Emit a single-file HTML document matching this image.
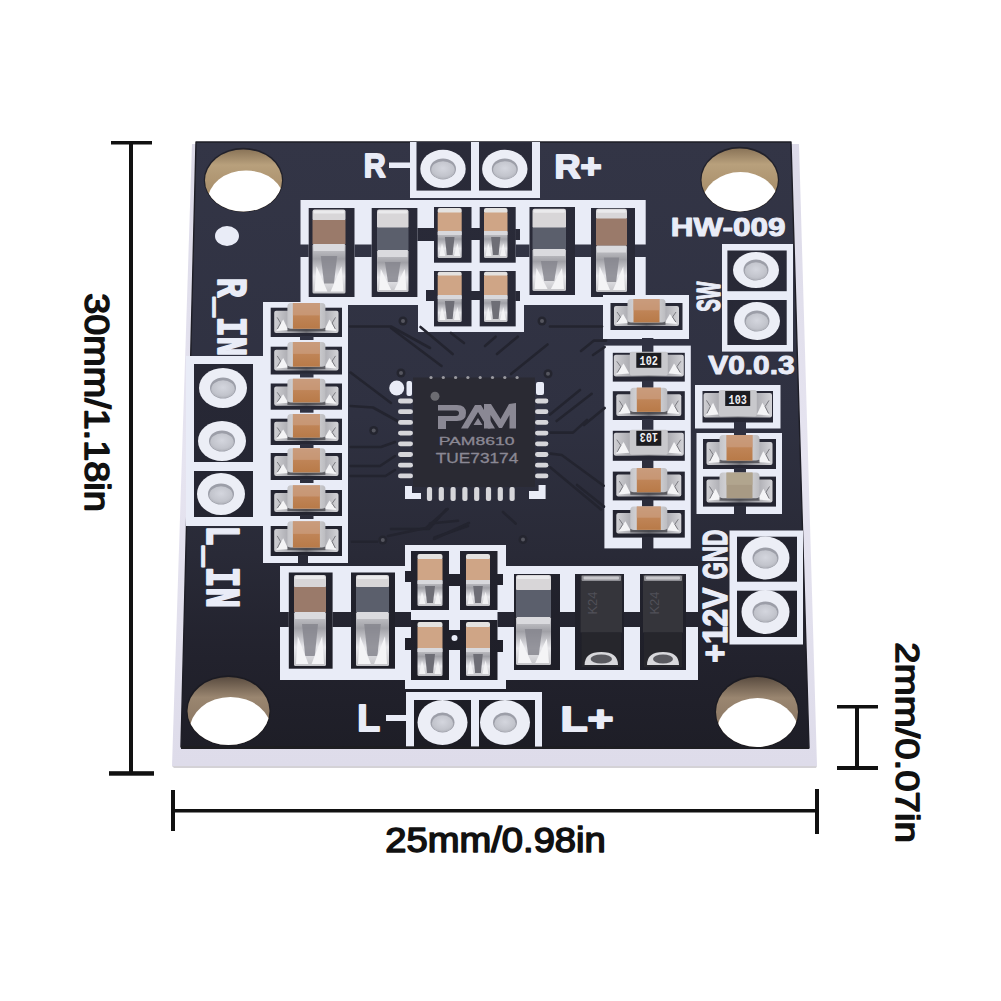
<!DOCTYPE html>
<html><head><meta charset="utf-8">
<style>
html,body{margin:0;padding:0;background:#fff;width:1001px;height:1001px;overflow:hidden}
svg{display:block;position:absolute;left:0;top:0}
</style></head><body>
<svg width="1001" height="1001" viewBox="0 0 1001 1001">
<defs>
<linearGradient id="edgeB" x1="0" y1="0" x2="0" y2="1">
<stop offset="0" stop-color="#dcdae8"/><stop offset="0.5" stop-color="#e6e4f0"/><stop offset="1" stop-color="#dedcea"/>
</linearGradient>
<linearGradient id="wallT" x1="0" y1="0" x2="0" y2="1">
<stop offset="0" stop-color="#8a7458"/><stop offset="0.25" stop-color="#b8a07c"/><stop offset="0.7" stop-color="#a88e6a"/><stop offset="1" stop-color="#8a7050"/>
</linearGradient>
<linearGradient id="wallB" x1="0" y1="0" x2="0" y2="1">
<stop offset="0" stop-color="#5a4c40"/><stop offset="0.3" stop-color="#9a8670"/><stop offset="0.7" stop-color="#8c7864"/><stop offset="1" stop-color="#6a5a4a"/>
</linearGradient>
<linearGradient id="silv" x1="0" y1="0" x2="0" y2="1">
<stop offset="0" stop-color="#d0d0d4"/><stop offset="0.3" stop-color="#a0a0a6"/><stop offset="0.65" stop-color="#e8e8ec"/><stop offset="1" stop-color="#c4c4c8"/>
</linearGradient>
<linearGradient id="silvH" x1="0" y1="0" x2="1" y2="0">
<stop offset="0" stop-color="#d0d0d4"/><stop offset="0.25" stop-color="#a8a8ae"/><stop offset="0.5" stop-color="#707076"/><stop offset="0.75" stop-color="#a8a8ae"/><stop offset="1" stop-color="#d4d4d8"/>
</linearGradient>
<linearGradient id="capEnd" x1="0" y1="0" x2="1" y2="0">
<stop offset="0" stop-color="#c4c4c8"/><stop offset="0.5" stop-color="#e8e8ea"/><stop offset="1" stop-color="#bcbcc0"/>
</linearGradient>
<linearGradient id="brownH" x1="0" y1="0" x2="0" y2="1">
<stop offset="0" stop-color="#c89a7a"/><stop offset="0.45" stop-color="#c08558"/><stop offset="1" stop-color="#b87a48"/>
</linearGradient>
<linearGradient id="boardG" gradientUnits="userSpaceOnUse" x1="0" y1="142" x2="0" y2="748">
<stop offset="0" stop-color="#333546"/><stop offset="0.45" stop-color="#2f3141"/><stop offset="0.68" stop-color="#292a37"/><stop offset="0.85" stop-color="#22222d"/><stop offset="1" stop-color="#1e1e27"/>
</linearGradient>
<linearGradient id="boxG" gradientUnits="userSpaceOnUse" x1="0" y1="142" x2="0" y2="748">
<stop offset="0" stop-color="#2a2b39"/><stop offset="0.5" stop-color="#262734"/><stop offset="1" stop-color="#1c1c24"/>
</linearGradient>
<radialGradient id="padIn" cx="0.5" cy="0.4" r="0.6">
<stop offset="0" stop-color="#d4d6de"/><stop offset="0.75" stop-color="#c2c4cc"/><stop offset="1" stop-color="#b0b2ba"/>
</radialGradient>
</defs>

<polygon points="192,144 799,144 817,766 172,766" fill="url(#edgeB)"/>
<polygon points="172,766 817,766 816,768 174,768" fill="#d4d2d6"/>
<polygon points="196,142 791,142 809,748 181,747" fill="url(#boardG)" stroke="#1e1e26" stroke-width="1.4" stroke-linejoin="round"/>
<rect x="410.0" y="142.0" width="130.0" height="56.0" fill="#e9ecf7" />
<rect x="416.5" y="142.0" width="54.5" height="48.6" fill="url(#boxG)" />
<rect x="479.0" y="142.0" width="53.0" height="48.6" fill="url(#boxG)" />
<rect x="300.5" y="200.0" width="345.2" height="105.0" fill="#e9ecf7" />
<rect x="418.0" y="200.0" width="106.0" height="132.0" fill="#e9ecf7" />
<rect x="308.7" y="208.0" width="45.8" height="89.0" fill="url(#boxG)" />
<rect x="371.7" y="208.0" width="45.7" height="89.0" fill="url(#boxG)" />
<rect x="591.0" y="208.0" width="44.0" height="89.0" fill="url(#boxG)" />
<rect x="529.5" y="207.0" width="45.5" height="88.0" fill="url(#boxG)" />
<rect x="434.0" y="207.0" width="37.5" height="55.7" fill="url(#boxG)" />
<rect x="434.0" y="271.0" width="37.5" height="55.4" fill="url(#boxG)" />
<rect x="479.7" y="207.0" width="36.0" height="55.7" fill="url(#boxG)" />
<rect x="479.7" y="271.0" width="36.0" height="55.4" fill="url(#boxG)" />
<rect x="300.0" y="244.5" width="8.7" height="12.5" fill="url(#boardG)" />
<rect x="354.5" y="244.5" width="17.2" height="12.5" fill="url(#boardG)" />
<rect x="515.7" y="244.5" width="13.8" height="12.5" fill="url(#boardG)" />
<rect x="575.0" y="244.5" width="16.0" height="12.5" fill="url(#boardG)" />
<rect x="635.0" y="244.5" width="11.0" height="12.5" fill="url(#boardG)" />
<rect x="417.4" y="228.0" width="16.6" height="13.0" fill="url(#boxG)" />
<rect x="471.0" y="228.0" width="9.2" height="12.0" fill="url(#boxG)" />
<rect x="515.2" y="229.0" width="4.8" height="11.0" fill="url(#boxG)" />
<rect x="426.0" y="290.0" width="8.5" height="11.0" fill="url(#boxG)" />
<rect x="471.0" y="291.0" width="9.2" height="9.0" fill="url(#boxG)" />
<rect x="515.2" y="291.0" width="4.8" height="10.0" fill="url(#boxG)" />
<rect x="603.0" y="295.0" width="86.0" height="44.0" fill="#e9ecf7" />
<rect x="610.5" y="303.0" width="72.0" height="27.0" fill="url(#boxG)" />
<rect x="604.4" y="345.6" width="86.4" height="202.8" fill="#e9ecf7" />
<rect x="612.8" y="352.8" width="72.0" height="28.8" fill="url(#boxG)" />
<rect x="612.8" y="391.2" width="72.0" height="28.8" fill="url(#boxG)" />
<rect x="612.8" y="430.8" width="72.0" height="30.0" fill="url(#boxG)" />
<rect x="612.8" y="471.6" width="72.0" height="28.8" fill="url(#boxG)" />
<rect x="612.8" y="510.0" width="72.0" height="27.6" fill="url(#boxG)" />
<rect x="642.0" y="380.6" width="11.4" height="11.6" fill="url(#boardG)" />
<rect x="642.0" y="419.0" width="11.4" height="12.8" fill="url(#boardG)" />
<rect x="642.0" y="459.8" width="11.4" height="12.8" fill="url(#boardG)" />
<rect x="642.0" y="499.4" width="11.4" height="11.6" fill="url(#boardG)" />
<rect x="642.0" y="338.0" width="11.4" height="15.0" fill="url(#boardG)" />
<rect x="642.0" y="537.0" width="11.4" height="12.0" fill="url(#boardG)" />
<rect x="722.0" y="244.0" width="71.0" height="107.6" fill="#e9ecf7" />
<rect x="727.4" y="250.5" width="59.3" height="40.7" fill="url(#boxG)" />
<rect x="727.4" y="300.0" width="59.3" height="45.0" fill="url(#boxG)" />
<rect x="695.0" y="385.0" width="85.5" height="43.5" fill="#e9ecf7" />
<rect x="702.5" y="391.0" width="70.5" height="31.5" fill="url(#boxG)" />
<rect x="734.0" y="422.0" width="12.0" height="7.0" fill="url(#boardG)" />
<rect x="696.5" y="433.0" width="85.5" height="81.0" fill="#e9ecf7" />
<rect x="703.0" y="439.0" width="73.0" height="30.0" fill="url(#boxG)" />
<rect x="703.0" y="476.6" width="73.0" height="30.0" fill="url(#boxG)" />
<rect x="734.0" y="432.0" width="12.0" height="8.0" fill="url(#boardG)" />
<rect x="734.0" y="468.0" width="12.0" height="9.0" fill="url(#boardG)" />
<rect x="734.0" y="506.0" width="12.0" height="9.0" fill="url(#boardG)" />
<rect x="729.5" y="530.5" width="73.5" height="114.0" fill="#e9ecf7" />
<rect x="737.0" y="536.7" width="60.0" height="45.0" fill="url(#boxG)" />
<rect x="737.0" y="590.7" width="60.0" height="46.3" fill="url(#boxG)" />
<rect x="186.0" y="356.0" width="78.0" height="170.0" fill="#e9ecf7" />
<rect x="194.0" y="364.0" width="59.0" height="98.0" fill="url(#boxG)" />
<rect x="194.0" y="471.0" width="59.0" height="46.0" fill="url(#boxG)" />
<rect x="263.0" y="302.0" width="85.0" height="261.0" fill="#e9ecf7" />
<rect x="270.7" y="307.7" width="71.3" height="29.3" fill="url(#boxG)" />
<rect x="270.7" y="346.7" width="71.3" height="27.8" fill="url(#boxG)" />
<rect x="270.7" y="383.5" width="71.3" height="26.2" fill="url(#boxG)" />
<rect x="270.7" y="418.7" width="71.3" height="26.3" fill="url(#boxG)" />
<rect x="270.7" y="453.0" width="71.3" height="27.0" fill="url(#boxG)" />
<rect x="270.7" y="490.0" width="71.3" height="26.0" fill="url(#boxG)" />
<rect x="270.7" y="526.0" width="71.3" height="30.0" fill="url(#boxG)" />
<rect x="300.0" y="336.0" width="13.5" height="4.0" fill="url(#boardG)" />
<rect x="300.0" y="373.5" width="13.5" height="4.0" fill="url(#boardG)" />
<rect x="300.0" y="408.7" width="13.5" height="4.0" fill="url(#boardG)" />
<rect x="300.0" y="444.0" width="13.5" height="4.0" fill="url(#boardG)" />
<rect x="300.0" y="479.0" width="13.5" height="4.0" fill="url(#boardG)" />
<rect x="300.0" y="515.0" width="13.5" height="4.0" fill="url(#boardG)" />
<rect x="298.0" y="555.0" width="10.0" height="9.0" fill="url(#boardG)" />
<rect x="280.0" y="566.0" width="418.0" height="114.0" fill="#e9ecf7" />
<rect x="405.0" y="545.0" width="101.0" height="144.0" fill="#e9ecf7" />
<rect x="288.8" y="572.5" width="43.8" height="96.2" fill="url(#boxG)" />
<rect x="351.0" y="572.5" width="44.0" height="96.2" fill="url(#boxG)" />
<rect x="411.0" y="551.0" width="38.0" height="59.0" fill="url(#boxG)" />
<rect x="411.0" y="620.0" width="38.0" height="60.0" fill="url(#boxG)" />
<rect x="460.0" y="551.0" width="37.5" height="59.0" fill="url(#boxG)" />
<rect x="460.0" y="620.0" width="37.5" height="60.0" fill="url(#boxG)" />
<rect x="514.0" y="574.0" width="46.0" height="96.0" fill="url(#boxG)" />
<rect x="575.0" y="574.0" width="49.0" height="96.0" fill="url(#boxG)" />
<rect x="640.0" y="574.0" width="46.0" height="96.0" fill="url(#boxG)" />
<rect x="279.0" y="612.0" width="9.8" height="15.0" fill="url(#boardG)" />
<rect x="332.5" y="612.0" width="18.5" height="15.0" fill="url(#boardG)" />
<rect x="395.0" y="612.0" width="16.0" height="15.0" fill="url(#boardG)" />
<rect x="497.5" y="612.0" width="16.5" height="15.0" fill="url(#boardG)" />
<rect x="560.0" y="612.0" width="15.0" height="15.0" fill="url(#boardG)" />
<rect x="624.0" y="612.0" width="16.0" height="15.0" fill="url(#boardG)" />
<rect x="686.0" y="612.0" width="13.0" height="15.0" fill="url(#boardG)" />
<rect x="405.0" y="571.0" width="6.5" height="11.0" fill="url(#boxG)" />
<rect x="448.5" y="574.0" width="12.0" height="12.0" fill="url(#boxG)" />
<rect x="497.0" y="574.0" width="6.0" height="11.0" fill="url(#boxG)" />
<rect x="405.0" y="638.0" width="6.5" height="12.0" fill="url(#boxG)" />
<rect x="448.5" y="630.0" width="12.0" height="20.0" fill="url(#boxG)" />
<rect x="497.0" y="640.0" width="6.0" height="12.0" fill="url(#boxG)" />
<circle cx="454.5" cy="638" r="3" fill="#e9ecf7"/>
<rect x="406.0" y="692.0" width="136.0" height="56.0" fill="#e9ecf7" />
<rect x="414.0" y="700.0" width="57.0" height="48.0" fill="url(#boxG)" />
<rect x="479.0" y="700.0" width="56.0" height="48.0" fill="url(#boxG)" />
<polygon points="181,746 809,747 809,749 181,749" fill="#1e1e22"/>
<clipPath id="hc1"><ellipse cx="243.5" cy="180.5" rx="38.5" ry="31"/></clipPath>
<ellipse cx="243.5" cy="180.0" rx="39.7" ry="32.2" fill="#1a1a20" opacity="0.7"/>
<ellipse cx="243.5" cy="180.5" rx="38.5" ry="31" fill="url(#wallT)"/>
<ellipse cx="246" cy="201.5" rx="38.5" ry="31" fill="#ffffff" clip-path="url(#hc1)"/>
<clipPath id="hc2"><ellipse cx="739.7" cy="180" rx="38.2" ry="31.5"/></clipPath>
<ellipse cx="739.7" cy="179.5" rx="39.400000000000006" ry="32.7" fill="#1a1a20" opacity="0.7"/>
<ellipse cx="739.7" cy="180" rx="38.2" ry="31.5" fill="url(#wallT)"/>
<ellipse cx="740.5" cy="203.5" rx="38.2" ry="31.5" fill="#ffffff" clip-path="url(#hc2)"/>
<clipPath id="hc3"><ellipse cx="228.5" cy="711" rx="41" ry="34"/></clipPath>
<ellipse cx="228.5" cy="710.5" rx="42.2" ry="35.2" fill="#1a1a20" opacity="0.7"/>
<ellipse cx="228.5" cy="711" rx="41" ry="34" fill="url(#wallB)"/>
<ellipse cx="230.5" cy="731" rx="41" ry="34" fill="#ffffff" clip-path="url(#hc3)"/>
<clipPath id="hc4"><ellipse cx="757" cy="712" rx="41" ry="35"/></clipPath>
<ellipse cx="757" cy="711.5" rx="42.2" ry="36.2" fill="#1a1a20" opacity="0.7"/>
<ellipse cx="757" cy="712" rx="41" ry="35" fill="url(#wallB)"/>
<ellipse cx="757.5" cy="733" rx="41" ry="35" fill="#ffffff" clip-path="url(#hc4)"/>
<ellipse cx="227" cy="236" rx="12" ry="10" fill="#e9ecf7"/>
<ellipse cx="443" cy="168.9" rx="22.7" ry="19.2" fill="#eceef6"/>
<ellipse cx="443" cy="168.9" rx="13" ry="10.5" fill="#9c9ea8"/>
<ellipse cx="443" cy="170.1" rx="11.8" ry="8.9" fill="url(#padIn)"/>
<ellipse cx="504.8" cy="168.9" rx="22.7" ry="19.2" fill="#eceef6"/>
<ellipse cx="504.8" cy="168.9" rx="13" ry="10.5" fill="#9c9ea8"/>
<ellipse cx="504.8" cy="170.1" rx="11.8" ry="8.9" fill="url(#padIn)"/>
<ellipse cx="223" cy="388" rx="24" ry="20" fill="#eceef6"/>
<ellipse cx="223" cy="388" rx="13" ry="10.5" fill="#9c9ea8"/>
<ellipse cx="223" cy="389.2" rx="11.8" ry="8.9" fill="url(#padIn)"/>
<ellipse cx="222" cy="441" rx="24" ry="20" fill="#eceef6"/>
<ellipse cx="222" cy="441" rx="13" ry="10.5" fill="#9c9ea8"/>
<ellipse cx="222" cy="442.2" rx="11.8" ry="8.9" fill="url(#padIn)"/>
<ellipse cx="221" cy="494" rx="24" ry="21" fill="#eceef6"/>
<ellipse cx="221" cy="494" rx="13" ry="10.5" fill="#9c9ea8"/>
<ellipse cx="221" cy="495.2" rx="11.8" ry="8.9" fill="url(#padIn)"/>
<ellipse cx="756" cy="270" rx="23" ry="18" fill="#eceef6"/>
<ellipse cx="756" cy="270" rx="12.5" ry="10.5" fill="#9c9ea8"/>
<ellipse cx="756" cy="271.2" rx="11.3" ry="8.9" fill="url(#padIn)"/>
<ellipse cx="757" cy="321" rx="23" ry="19" fill="#eceef6"/>
<ellipse cx="757" cy="321" rx="12.5" ry="10.5" fill="#9c9ea8"/>
<ellipse cx="757" cy="322.2" rx="11.3" ry="8.9" fill="url(#padIn)"/>
<ellipse cx="765.5" cy="558" rx="24" ry="21.5" fill="#eceef6"/>
<ellipse cx="765.5" cy="558" rx="13" ry="10.5" fill="#9c9ea8"/>
<ellipse cx="765.5" cy="559.2" rx="11.8" ry="8.9" fill="url(#padIn)"/>
<ellipse cx="765.5" cy="612" rx="24" ry="22" fill="#eceef6"/>
<ellipse cx="765.5" cy="612" rx="13" ry="10.5" fill="#9c9ea8"/>
<ellipse cx="765.5" cy="613.2" rx="11.8" ry="8.9" fill="url(#padIn)"/>
<ellipse cx="442.5" cy="722.5" rx="25" ry="22.5" fill="#eceef6"/>
<ellipse cx="442.5" cy="722.5" rx="12" ry="10" fill="#9c9ea8"/>
<ellipse cx="442.5" cy="723.7" rx="10.8" ry="8.4" fill="url(#padIn)"/>
<ellipse cx="505" cy="722.5" rx="25" ry="22.5" fill="#eceef6"/>
<ellipse cx="505" cy="722.5" rx="12" ry="10" fill="#9c9ea8"/>
<ellipse cx="505" cy="723.7" rx="10.8" ry="8.4" fill="url(#padIn)"/>
<rect x="312.5" y="244.0" width="33.0" height="49.5" fill="url(#silv)" rx="1.5"/>
<rect x="313.5" y="244.0" width="31.0" height="7.0" fill="#dadade" />
<path d="M320.8,256.0 L337.2,256.0 L333.9,283.5 L324.1,283.5 Z" fill="#86868e" opacity="0.85"/>
<polygon points="314.5,291.5 316.5,266.3 327.4,291.5" fill="#f4f4f6"/>
<polygon points="343.5,291.5 341.5,266.3 330.6,291.5" fill="#f4f4f6"/>
<rect x="312.5" y="209.5" width="33.0" height="11.5" fill="#d8d6d8" rx="2"/>
<rect x="313.5" y="210.5" width="31.0" height="3.0" fill="#eaeaec" rx="1.5"/>
<rect x="312.5" y="220.0" width="33.0" height="24.0" fill="#9a7a6a" />
<rect x="377.0" y="250.0" width="31.5" height="42.0" fill="url(#silv)" rx="1.5"/>
<rect x="378.0" y="250.0" width="29.5" height="7.0" fill="#dadade" />
<path d="M384.9,262.0 L400.6,262.0 L397.5,282.0 L388.0,282.0 Z" fill="#86868e" opacity="0.85"/>
<polygon points="379.0,290.0 380.8,268.9 391.2,290.0" fill="#f4f4f6"/>
<polygon points="406.5,290.0 404.7,268.9 394.3,290.0" fill="#f4f4f6"/>
<rect x="377.0" y="209.5" width="31.5" height="19.0" fill="#d8d6d8" rx="2"/>
<rect x="378.0" y="210.5" width="29.5" height="3.0" fill="#eaeaec" rx="1.5"/>
<rect x="377.0" y="227.5" width="31.5" height="22.5" fill="#5b5f6c" />
<rect x="532.5" y="249.0" width="33.5" height="42.0" fill="url(#silv)" rx="1.5"/>
<rect x="533.5" y="249.0" width="31.5" height="7.0" fill="#dadade" />
<path d="M540.9,261.0 L557.6,261.0 L554.3,281.0 L544.2,281.0 Z" fill="#86868e" opacity="0.85"/>
<polygon points="534.5,289.0 536.5,267.9 547.6,289.0" fill="#f4f4f6"/>
<polygon points="564.0,289.0 562.0,267.9 550.9,289.0" fill="#f4f4f6"/>
<rect x="532.5" y="208.7" width="33.5" height="19.8" fill="#d8d6d8" rx="2"/>
<rect x="533.5" y="209.7" width="31.5" height="3.0" fill="#eaeaec" rx="1.5"/>
<rect x="532.5" y="227.5" width="33.5" height="21.5" fill="#5b5f6c" />
<rect x="596.0" y="245.5" width="31.0" height="46.5" fill="url(#silv)" rx="1.5"/>
<rect x="597.0" y="245.5" width="29.0" height="7.0" fill="#dadade" />
<path d="M603.8,257.5 L619.2,257.5 L616.1,282.0 L606.9,282.0 Z" fill="#86868e" opacity="0.85"/>
<polygon points="598.0,290.0 599.7,266.4 610.0,290.0" fill="#f4f4f6"/>
<polygon points="625.0,290.0 623.3,266.4 613.0,290.0" fill="#f4f4f6"/>
<rect x="596.0" y="208.7" width="31.0" height="10.8" fill="#d8d6d8" rx="2"/>
<rect x="597.0" y="209.7" width="29.0" height="3.0" fill="#eaeaec" rx="1.5"/>
<rect x="596.0" y="218.5" width="31.0" height="27.0" fill="#9a7a6a" />
<rect x="294.0" y="612.0" width="32.0" height="54.0" fill="url(#silv)" rx="1.5"/>
<rect x="295.0" y="612.0" width="30.0" height="7.0" fill="#dadade" />
<path d="M302.0,624.0 L318.0,624.0 L314.8,656.0 L305.2,656.0 Z" fill="#86868e" opacity="0.85"/>
<polygon points="296.0,664.0 297.8,636.3 308.4,664.0" fill="#f4f4f6"/>
<polygon points="324.0,664.0 322.2,636.3 311.6,664.0" fill="#f4f4f6"/>
<rect x="294.0" y="575.0" width="32.0" height="13.0" fill="#d8d6d8" rx="2"/>
<rect x="295.0" y="576.0" width="30.0" height="3.0" fill="#eaeaec" rx="1.5"/>
<rect x="294.0" y="587.0" width="32.0" height="25.0" fill="#9a7a6a" />
<rect x="356.0" y="612.0" width="33.0" height="54.0" fill="url(#silv)" rx="1.5"/>
<rect x="357.0" y="612.0" width="31.0" height="7.0" fill="#dadade" />
<path d="M364.2,624.0 L380.8,624.0 L377.4,656.0 L367.6,656.0 Z" fill="#86868e" opacity="0.85"/>
<polygon points="358.0,664.0 360.0,636.3 370.9,664.0" fill="#f4f4f6"/>
<polygon points="387.0,664.0 385.0,636.3 374.1,664.0" fill="#f4f4f6"/>
<rect x="356.0" y="575.0" width="33.0" height="13.0" fill="#d8d6d8" rx="2"/>
<rect x="357.0" y="576.0" width="31.0" height="3.0" fill="#eaeaec" rx="1.5"/>
<rect x="356.0" y="587.0" width="33.0" height="25.0" fill="#5b5f6c" />
<rect x="516.0" y="617.0" width="35.0" height="48.0" fill="url(#silv)" rx="1.5"/>
<rect x="517.0" y="617.0" width="33.0" height="7.0" fill="#dadade" />
<path d="M524.8,629.0 L542.2,629.0 L538.8,655.0 L528.2,655.0 Z" fill="#86868e" opacity="0.85"/>
<polygon points="518.0,663.0 520.2,638.6 531.8,663.0" fill="#f4f4f6"/>
<polygon points="549.0,663.0 546.8,638.6 535.2,663.0" fill="#f4f4f6"/>
<rect x="516.0" y="575.0" width="35.0" height="16.0" fill="#d8d6d8" rx="2"/>
<rect x="517.0" y="576.0" width="33.0" height="3.0" fill="#eaeaec" rx="1.5"/>
<rect x="516.0" y="590.0" width="35.0" height="27.0" fill="#5b5f6c" />
<rect x="437.7" y="231.0" width="24.0" height="27.0" fill="url(#silv)" rx="1.5"/>
<path d="M444.9,237.0 L454.5,237.0 L452.6,255.0 L446.8,255.0 Z" fill="#6e6e76"/>
<polygon points="439.2,256.0 442.0,243.2 445.4,256.0" fill="#f2f2f4"/>
<polygon points="460.2,256.0 457.4,243.2 454.0,256.0" fill="#f2f2f4"/>
<rect x="437.7" y="231.0" width="24.0" height="4.0" fill="#d8d8dc" />
<rect x="437.7" y="208.0" width="24.0" height="5.5" fill="#e4e2e0" rx="2"/>
<rect x="437.7" y="212.5" width="24.0" height="18.5" fill="#cfa586" />
<rect x="437.7" y="295.0" width="24.0" height="27.0" fill="url(#silv)" rx="1.5"/>
<path d="M444.9,301.0 L454.5,301.0 L452.6,319.0 L446.8,319.0 Z" fill="#6e6e76"/>
<polygon points="439.2,320.0 442.0,307.1 445.4,320.0" fill="#f2f2f4"/>
<polygon points="460.2,320.0 457.4,307.1 454.0,320.0" fill="#f2f2f4"/>
<rect x="437.7" y="295.0" width="24.0" height="4.0" fill="#d8d8dc" />
<rect x="437.7" y="271.7" width="24.0" height="4.8" fill="#e4e2e0" rx="2"/>
<rect x="437.7" y="275.5" width="24.0" height="19.5" fill="#cfa586" />
<rect x="484.0" y="231.0" width="23.5" height="27.0" fill="url(#silv)" rx="1.5"/>
<path d="M491.1,237.0 L500.4,237.0 L498.6,255.0 L492.9,255.0 Z" fill="#6e6e76"/>
<polygon points="485.5,256.0 488.2,243.2 491.5,256.0" fill="#f2f2f4"/>
<polygon points="506.0,256.0 503.3,243.2 500.0,256.0" fill="#f2f2f4"/>
<rect x="484.0" y="231.0" width="23.5" height="4.0" fill="#d8d8dc" />
<rect x="484.0" y="208.0" width="23.5" height="5.5" fill="#e4e2e0" rx="2"/>
<rect x="484.0" y="212.5" width="23.5" height="18.5" fill="#cfa586" />
<rect x="484.0" y="295.0" width="23.5" height="27.0" fill="url(#silv)" rx="1.5"/>
<path d="M491.1,301.0 L500.4,301.0 L498.6,319.0 L492.9,319.0 Z" fill="#6e6e76"/>
<polygon points="485.5,320.0 488.2,307.1 491.5,320.0" fill="#f2f2f4"/>
<polygon points="506.0,320.0 503.3,307.1 500.0,320.0" fill="#f2f2f4"/>
<rect x="484.0" y="295.0" width="23.5" height="4.0" fill="#d8d8dc" />
<rect x="484.0" y="271.7" width="23.5" height="4.8" fill="#e4e2e0" rx="2"/>
<rect x="484.0" y="275.5" width="23.5" height="19.5" fill="#cfa586" />
<rect x="417.5" y="580.0" width="25.0" height="26.0" fill="url(#silv)" rx="1.5"/>
<path d="M425.0,586.0 L435.0,586.0 L433.0,603.0 L427.0,603.0 Z" fill="#6e6e76"/>
<polygon points="419.0,604.0 422.0,591.7 425.5,604.0" fill="#f2f2f4"/>
<polygon points="441.0,604.0 438.0,591.7 434.5,604.0" fill="#f2f2f4"/>
<rect x="417.5" y="580.0" width="25.0" height="4.0" fill="#d8d8dc" />
<rect x="417.5" y="554.0" width="25.0" height="6.0" fill="#e4e2e0" rx="2"/>
<rect x="417.5" y="559.0" width="25.0" height="21.0" fill="#cfa586" />
<rect x="417.5" y="648.0" width="25.0" height="28.0" fill="url(#silv)" rx="1.5"/>
<path d="M425.0,654.0 L435.0,654.0 L433.0,673.0 L427.0,673.0 Z" fill="#6e6e76"/>
<polygon points="419.0,674.0 422.0,660.6 425.5,674.0" fill="#f2f2f4"/>
<polygon points="441.0,674.0 438.0,660.6 434.5,674.0" fill="#f2f2f4"/>
<rect x="417.5" y="648.0" width="25.0" height="4.0" fill="#d8d8dc" />
<rect x="417.5" y="622.0" width="25.0" height="6.0" fill="#e4e2e0" rx="2"/>
<rect x="417.5" y="627.0" width="25.0" height="21.0" fill="#cfa586" />
<rect x="466.0" y="580.0" width="24.0" height="26.0" fill="url(#silv)" rx="1.5"/>
<path d="M473.2,586.0 L482.8,586.0 L480.9,603.0 L475.1,603.0 Z" fill="#6e6e76"/>
<polygon points="467.5,604.0 470.3,591.7 473.7,604.0" fill="#f2f2f4"/>
<polygon points="488.5,604.0 485.7,591.7 482.3,604.0" fill="#f2f2f4"/>
<rect x="466.0" y="580.0" width="24.0" height="4.0" fill="#d8d8dc" />
<rect x="466.0" y="554.0" width="24.0" height="6.0" fill="#e4e2e0" rx="2"/>
<rect x="466.0" y="559.0" width="24.0" height="21.0" fill="#cfa586" />
<rect x="466.0" y="648.0" width="24.0" height="28.0" fill="url(#silv)" rx="1.5"/>
<path d="M473.2,654.0 L482.8,654.0 L480.9,673.0 L475.1,673.0 Z" fill="#6e6e76"/>
<polygon points="467.5,674.0 470.3,660.6 473.7,674.0" fill="#f2f2f4"/>
<polygon points="488.5,674.0 485.7,660.6 482.3,674.0" fill="#f2f2f4"/>
<rect x="466.0" y="648.0" width="24.0" height="4.0" fill="#d8d8dc" />
<rect x="466.0" y="622.0" width="24.0" height="6.0" fill="#e4e2e0" rx="2"/>
<rect x="466.0" y="627.0" width="24.0" height="21.0" fill="#cfa586" />
<rect x="274.2" y="310.7" width="64.3" height="22.3" fill="url(#silvH)" rx="2"/>
<polygon points="276.2,331 283.2,319.6 288.3,330" fill="#f4f4f6"/>
<polygon points="336.5,331 329.5,319.6 324.4,330" fill="#f4f4f6"/>
<polyline points="277.2,317.4 280.6,323.0 277.4,329" stroke="#7a7a80" stroke-width="1" fill="none"/>
<polyline points="335.5,317.4 332.1,323.0 335.3,329" stroke="#7a7a80" stroke-width="1" fill="none"/>
<rect x="287.4" y="327.8" width="38.0" height="3.5" fill="#3a3a40" opacity="0.7"/>
<rect x="287.4" y="303.0" width="38.0" height="25.8" fill="url(#capEnd)" rx="3.5"/>
<rect x="292.9" y="303.0" width="27.0" height="25.8" fill="url(#brownH)" />
<rect x="292.9" y="303.0" width="27.0" height="12.4" fill="#c99c7e" opacity="0.75"/>
<rect x="274.2" y="349.7" width="64.3" height="20.8" fill="url(#silvH)" rx="2"/>
<polygon points="276.2,368.5 283.2,358.0 288.3,367.5" fill="#f4f4f6"/>
<polygon points="336.5,368.5 329.5,358.0 324.4,367.5" fill="#f4f4f6"/>
<polyline points="277.2,355.9 280.6,361.1 277.4,366.5" stroke="#7a7a80" stroke-width="1" fill="none"/>
<polyline points="335.5,355.9 332.1,361.1 335.3,366.5" stroke="#7a7a80" stroke-width="1" fill="none"/>
<rect x="287.4" y="365.7" width="38.0" height="3.5" fill="#3a3a40" opacity="0.7"/>
<rect x="287.4" y="342.0" width="38.0" height="24.7" fill="url(#capEnd)" rx="3.5"/>
<rect x="292.9" y="342.0" width="27.0" height="24.7" fill="url(#brownH)" />
<rect x="292.9" y="342.0" width="27.0" height="11.9" fill="#c99c7e" opacity="0.75"/>
<rect x="274.2" y="386.5" width="64.3" height="19.2" fill="url(#silvH)" rx="2"/>
<polygon points="276.2,403.7 283.2,394.2 288.3,402.7" fill="#f4f4f6"/>
<polygon points="336.5,403.7 329.5,394.2 324.4,402.7" fill="#f4f4f6"/>
<polyline points="277.2,392.3 280.6,397.1 277.4,401.7" stroke="#7a7a80" stroke-width="1" fill="none"/>
<polyline points="335.5,392.3 332.1,397.1 335.3,401.7" stroke="#7a7a80" stroke-width="1" fill="none"/>
<rect x="287.4" y="401.4" width="38.0" height="3.5" fill="#3a3a40" opacity="0.7"/>
<rect x="287.4" y="378.8" width="38.0" height="23.6" fill="url(#capEnd)" rx="3.5"/>
<rect x="292.9" y="378.8" width="27.0" height="23.6" fill="url(#brownH)" />
<rect x="292.9" y="378.8" width="27.0" height="11.3" fill="#c99c7e" opacity="0.75"/>
<rect x="274.2" y="421.7" width="64.3" height="19.3" fill="url(#silvH)" rx="2"/>
<polygon points="276.2,439 283.2,429.4 288.3,438" fill="#f4f4f6"/>
<polygon points="336.5,439 329.5,429.4 324.4,438" fill="#f4f4f6"/>
<polyline points="277.2,427.5 280.6,432.3 277.4,437" stroke="#7a7a80" stroke-width="1" fill="none"/>
<polyline points="335.5,427.5 332.1,432.3 335.3,437" stroke="#7a7a80" stroke-width="1" fill="none"/>
<rect x="287.4" y="436.6" width="38.0" height="3.5" fill="#3a3a40" opacity="0.7"/>
<rect x="287.4" y="414.0" width="38.0" height="23.6" fill="url(#capEnd)" rx="3.5"/>
<rect x="292.9" y="414.0" width="27.0" height="23.6" fill="url(#brownH)" />
<rect x="292.9" y="414.0" width="27.0" height="11.3" fill="#c99c7e" opacity="0.75"/>
<rect x="274.2" y="456.0" width="64.3" height="20.0" fill="url(#silvH)" rx="2"/>
<polygon points="276.2,474 283.2,464.0 288.3,473" fill="#f4f4f6"/>
<polygon points="336.5,474 329.5,464.0 324.4,473" fill="#f4f4f6"/>
<polyline points="277.2,462.0 280.6,467.0 277.4,472" stroke="#7a7a80" stroke-width="1" fill="none"/>
<polyline points="335.5,462.0 332.1,467.0 335.3,472" stroke="#7a7a80" stroke-width="1" fill="none"/>
<rect x="287.4" y="471.4" width="38.0" height="3.5" fill="#3a3a40" opacity="0.7"/>
<rect x="287.4" y="448.3" width="38.0" height="24.1" fill="url(#capEnd)" rx="3.5"/>
<rect x="292.9" y="448.3" width="27.0" height="24.1" fill="url(#brownH)" />
<rect x="292.9" y="448.3" width="27.0" height="11.6" fill="#c99c7e" opacity="0.75"/>
<rect x="274.2" y="493.0" width="64.3" height="19.0" fill="url(#silvH)" rx="2"/>
<polygon points="276.2,510 283.2,500.6 288.3,509" fill="#f4f4f6"/>
<polygon points="336.5,510 329.5,500.6 324.4,509" fill="#f4f4f6"/>
<polyline points="277.2,498.7 280.6,503.4 277.4,508" stroke="#7a7a80" stroke-width="1" fill="none"/>
<polyline points="335.5,498.7 332.1,503.4 335.3,508" stroke="#7a7a80" stroke-width="1" fill="none"/>
<rect x="287.4" y="507.7" width="38.0" height="3.5" fill="#3a3a40" opacity="0.7"/>
<rect x="287.4" y="485.3" width="38.0" height="23.4" fill="url(#capEnd)" rx="3.5"/>
<rect x="292.9" y="485.3" width="27.0" height="23.4" fill="url(#brownH)" />
<rect x="292.9" y="485.3" width="27.0" height="11.2" fill="#c99c7e" opacity="0.75"/>
<rect x="274.2" y="529.0" width="64.3" height="23.0" fill="url(#silvH)" rx="2"/>
<polygon points="276.2,550 283.2,538.2 288.3,549" fill="#f4f4f6"/>
<polygon points="336.5,550 329.5,538.2 324.4,549" fill="#f4f4f6"/>
<polyline points="277.2,535.9 280.6,541.6 277.4,548" stroke="#7a7a80" stroke-width="1" fill="none"/>
<polyline points="335.5,535.9 332.1,541.6 335.3,548" stroke="#7a7a80" stroke-width="1" fill="none"/>
<rect x="287.4" y="546.6" width="38.0" height="3.5" fill="#3a3a40" opacity="0.7"/>
<rect x="287.4" y="521.3" width="38.0" height="26.3" fill="url(#capEnd)" rx="3.5"/>
<rect x="292.9" y="521.3" width="27.0" height="26.3" fill="url(#brownH)" />
<rect x="292.9" y="521.3" width="27.0" height="12.6" fill="#c99c7e" opacity="0.75"/>
<rect x="614.0" y="306.0" width="65.0" height="20.0" fill="url(#silvH)" rx="2"/>
<polygon points="616.0,324 623.1,314.0 628.3,323" fill="#f4f4f6"/>
<polygon points="677.0,324 669.9,314.0 664.7,323" fill="#f4f4f6"/>
<polyline points="617.0,312.0 620.5,317.0 617.2,322" stroke="#7a7a80" stroke-width="1" fill="none"/>
<polyline points="676.0,312.0 672.5,317.0 675.8,322" stroke="#7a7a80" stroke-width="1" fill="none"/>
<rect x="627.5" y="321.4" width="38.0" height="3.5" fill="#3a3a40" opacity="0.7"/>
<rect x="627.5" y="299.0" width="38.0" height="23.4" fill="url(#capEnd)" rx="3.5"/>
<rect x="633.5" y="299.0" width="26.0" height="23.4" fill="url(#brownH)" />
<rect x="633.5" y="299.0" width="26.0" height="11.3" fill="#c99c7e" opacity="0.75"/>
<rect x="616.3" y="394.2" width="65.0" height="21.8" fill="url(#silvH)" rx="2"/>
<polygon points="618.3,414 625.4,402.9 630.6,413" fill="#f4f4f6"/>
<polygon points="679.3,414 672.2,402.9 667.0,413" fill="#f4f4f6"/>
<polyline points="619.3,400.7 622.8,406.2 619.5,412" stroke="#7a7a80" stroke-width="1" fill="none"/>
<polyline points="678.3,400.7 674.8,406.2 678.0,412" stroke="#7a7a80" stroke-width="1" fill="none"/>
<rect x="630.3" y="410.9" width="37.0" height="3.5" fill="#3a3a40" opacity="0.7"/>
<rect x="630.3" y="387.7" width="37.0" height="24.2" fill="url(#capEnd)" rx="3.5"/>
<rect x="636.8" y="387.7" width="24.0" height="24.2" fill="url(#brownH)" />
<rect x="636.8" y="387.7" width="24.0" height="11.6" fill="#c99c7e" opacity="0.75"/>
<rect x="616.3" y="474.6" width="65.0" height="21.8" fill="url(#silvH)" rx="2"/>
<polygon points="618.3,494.4 625.4,483.3 630.6,493.4" fill="#f4f4f6"/>
<polygon points="679.3,494.4 672.2,483.3 667.0,493.4" fill="#f4f4f6"/>
<polyline points="619.3,481.1 622.8,486.6 619.5,492.4" stroke="#7a7a80" stroke-width="1" fill="none"/>
<polyline points="678.3,481.1 674.8,486.6 678.0,492.4" stroke="#7a7a80" stroke-width="1" fill="none"/>
<rect x="630.3" y="491.3" width="37.0" height="3.5" fill="#3a3a40" opacity="0.7"/>
<rect x="630.3" y="468.1" width="37.0" height="24.2" fill="url(#capEnd)" rx="3.5"/>
<rect x="636.8" y="468.1" width="24.0" height="24.2" fill="url(#brownH)" />
<rect x="636.8" y="468.1" width="24.0" height="11.6" fill="#c99c7e" opacity="0.75"/>
<rect x="616.3" y="513.0" width="65.0" height="20.6" fill="url(#silvH)" rx="2"/>
<polygon points="618.3,531.6 625.4,521.2 630.6,530.6" fill="#f4f4f6"/>
<polygon points="679.3,531.6 672.2,521.2 667.0,530.6" fill="#f4f4f6"/>
<polyline points="619.3,519.2 622.8,524.3 619.5,529.6" stroke="#7a7a80" stroke-width="1" fill="none"/>
<polyline points="678.3,519.2 674.8,524.3 678.0,529.6" stroke="#7a7a80" stroke-width="1" fill="none"/>
<rect x="630.3" y="528.9" width="37.0" height="3.5" fill="#3a3a40" opacity="0.7"/>
<rect x="630.3" y="506.5" width="37.0" height="23.4" fill="url(#capEnd)" rx="3.5"/>
<rect x="636.8" y="506.5" width="24.0" height="23.4" fill="url(#brownH)" />
<rect x="636.8" y="506.5" width="24.0" height="11.2" fill="#c99c7e" opacity="0.75"/>
<rect x="706.5" y="442.0" width="66.0" height="23.0" fill="url(#silvH)" rx="2"/>
<polygon points="708.5,463 715.7,451.2 721.0,462" fill="#f4f4f6"/>
<polygon points="770.5,463 763.3,451.2 758.0,462" fill="#f4f4f6"/>
<polyline points="709.5,448.9 713.1,454.6 709.8,461" stroke="#7a7a80" stroke-width="1" fill="none"/>
<polyline points="769.5,448.9 765.9,454.6 769.2,461" stroke="#7a7a80" stroke-width="1" fill="none"/>
<rect x="719.5" y="459.6" width="40.0" height="3.5" fill="#3a3a40" opacity="0.7"/>
<rect x="719.5" y="435.0" width="40.0" height="25.6" fill="url(#capEnd)" rx="3.5"/>
<rect x="726.5" y="435.0" width="26.0" height="25.6" fill="url(#brownH)" />
<rect x="726.5" y="435.0" width="26.0" height="12.3" fill="#c99c7e" opacity="0.75"/>
<rect x="706.5" y="479.6" width="66.0" height="23.0" fill="url(#silvH)" rx="2"/>
<polygon points="708.5,500.6 715.7,488.8 721.0,499.6" fill="#f4f4f6"/>
<polygon points="770.5,500.6 763.3,488.8 758.0,499.6" fill="#f4f4f6"/>
<polyline points="709.5,486.5 713.1,492.2 709.8,498.6" stroke="#7a7a80" stroke-width="1" fill="none"/>
<polyline points="769.5,486.5 765.9,492.2 769.2,498.6" stroke="#7a7a80" stroke-width="1" fill="none"/>
<rect x="719.5" y="497.2" width="40.0" height="3.5" fill="#3a3a40" opacity="0.7"/>
<rect x="719.5" y="472.6" width="40.0" height="25.6" fill="url(#capEnd)" rx="3.5"/>
<rect x="726.5" y="472.6" width="26.0" height="25.6" fill="#a89a84" />
<rect x="726.5" y="472.6" width="26.0" height="12.3" fill="#b4a892" opacity="0.75"/>
<rect x="613.8" y="354.8" width="70.0" height="21.8" fill="url(#silvH)" rx="2"/>
<polygon points="615.8,374.6 623.6,363.5 629.2,373.6" fill="#f4f4f6"/>
<polygon points="681.8,374.6 674.0,363.5 668.4,373.6" fill="#f4f4f6"/>
<polyline points="616.8,361.3 620.8,366.8 617.3,372.6" stroke="#7a7a80" stroke-width="1" fill="none"/>
<polyline points="680.8,361.3 676.8,366.8 680.3,372.6" stroke="#7a7a80" stroke-width="1" fill="none"/>
<rect x="629.8" y="351.8" width="38.0" height="23.8" fill="#c8c8cc" rx="2"/>
<rect x="636.3" y="352.8" width="25.0" height="15.0" fill="#1c1c20" />
<text x="639.61" y="365.30" font-family='"Liberation Mono"' font-weight="bold" font-size="13.43" textLength="18.27" lengthAdjust="spacingAndGlyphs" fill="#f2f2f4" >102</text>
<rect x="613.8" y="432.8" width="70.0" height="23.0" fill="url(#silvH)" rx="2"/>
<polygon points="615.8,453.8 623.6,442.0 629.2,452.8" fill="#f4f4f6"/>
<polygon points="681.8,453.8 674.0,442.0 668.4,452.8" fill="#f4f4f6"/>
<polyline points="616.8,439.7 620.8,445.4 617.3,451.8" stroke="#7a7a80" stroke-width="1" fill="none"/>
<polyline points="680.8,439.7 676.8,445.4 680.3,451.8" stroke="#7a7a80" stroke-width="1" fill="none"/>
<rect x="629.8" y="429.8" width="38.0" height="25.0" fill="#c8c8cc" rx="2"/>
<rect x="636.3" y="430.8" width="25.0" height="15.0" fill="#1c1c20" />
<g transform="rotate(180 648.8 438.3)">
<text x="639.62" y="443.30" font-family='"Liberation Mono"' font-weight="bold" font-size="13.43" textLength="18.19" lengthAdjust="spacingAndGlyphs" fill="#f2f2f4" >103</text>
</g>
<rect x="703.5" y="393.0" width="68.5" height="24.5" fill="url(#silvH)" rx="2"/>
<polygon points="705.5,415.5 713.1,402.8 718.6,414.5" fill="#f4f4f6"/>
<polygon points="770,415.5 762.4,402.8 756.9,414.5" fill="#f4f4f6"/>
<polyline points="706.5,400.4 710.4,406.5 706.9,413.5" stroke="#7a7a80" stroke-width="1" fill="none"/>
<polyline points="769,400.4 765.1,406.5 768.6,413.5" stroke="#7a7a80" stroke-width="1" fill="none"/>
<rect x="718.8" y="390.0" width="38.0" height="26.5" fill="#c8c8cc" rx="2"/>
<rect x="725.2" y="391.0" width="25.0" height="15.0" fill="#1c1c20" />
<text x="728.57" y="403.50" font-family='"Liberation Mono"' font-weight="bold" font-size="13.43" textLength="18.19" lengthAdjust="spacingAndGlyphs" fill="#f2f2f4" >103</text>
<rect x="580.6" y="575.0" width="41.4" height="57.5" fill="#35353b" />
<rect x="581.6" y="575.5" width="39.4" height="5.5" fill="#8e8e94" rx="1"/>
<rect x="583.6" y="576.5" width="35.4" height="3.0" fill="#c8c8cc" rx="1"/>
<rect x="581.6" y="632.5" width="39.4" height="34.5" fill="#26262c" />
<path d="M584.6,665 Q584.6,652 601.3,652 Q618,652 618,665 Z" fill="#d8d8dc"/>
<ellipse cx="601.3" cy="659" rx="10.699999999999989" ry="4.5" fill="#5a5a60"/>
<g transform="translate(597.3,603) rotate(-90)"><text x="0" y="0" font-family='"Liberation Sans"' font-size="13" fill="#505058" text-anchor="middle">K24</text></g>
<rect x="643.0" y="575.0" width="40.0" height="57.5" fill="#35353b" />
<rect x="644.0" y="575.5" width="38.0" height="5.5" fill="#8e8e94" rx="1"/>
<rect x="646.0" y="576.5" width="34.0" height="3.0" fill="#c8c8cc" rx="1"/>
<rect x="644.0" y="632.5" width="38.0" height="34.5" fill="#26262c" />
<path d="M647,665 Q647,652 663.0,652 Q679,652 679,665 Z" fill="#d8d8dc"/>
<ellipse cx="663.0" cy="659" rx="10.0" ry="4.5" fill="#5a5a60"/>
<g transform="translate(659.0,603) rotate(-90)"><text x="0" y="0" font-family='"Liberation Sans"' font-size="13" fill="#505058" text-anchor="middle">K24</text></g>
<polyline points="391,328 441.5,366" fill="none" stroke="#23242f" stroke-width="2.6" stroke-linecap="round" stroke-linejoin="round"/>
<polyline points="420.5,327 452.7,354" fill="none" stroke="#23242f" stroke-width="2.6" stroke-linecap="round" stroke-linejoin="round"/>
<polyline points="451,333 464,343" fill="none" stroke="#23242f" stroke-width="2.6" stroke-linecap="round" stroke-linejoin="round"/>
<polyline points="350.6,372.5 391,403" fill="none" stroke="#23242f" stroke-width="2.6" stroke-linecap="round" stroke-linejoin="round"/>
<polyline points="350.6,406 373,407.5 401,423" fill="none" stroke="#23242f" stroke-width="2.6" stroke-linecap="round" stroke-linejoin="round"/>
<polyline points="485,346 495.6,336.7" fill="none" stroke="#23242f" stroke-width="2.6" stroke-linecap="round" stroke-linejoin="round"/>
<polyline points="497,354 517.7,336.7" fill="none" stroke="#23242f" stroke-width="2.6" stroke-linecap="round" stroke-linejoin="round"/>
<polyline points="511,374 547.5,344.5" fill="none" stroke="#23242f" stroke-width="2.6" stroke-linecap="round" stroke-linejoin="round"/>
<polyline points="581,351 594,340.6 606,340.6" fill="none" stroke="#23242f" stroke-width="2.6" stroke-linecap="round" stroke-linejoin="round"/>
<polyline points="593,355 604.7,347" fill="none" stroke="#23242f" stroke-width="2.6" stroke-linecap="round" stroke-linejoin="round"/>
<polyline points="550,414.6 580,390" fill="none" stroke="#23242f" stroke-width="2.6" stroke-linecap="round" stroke-linejoin="round"/>
<polyline points="556.6,421 591.7,393.8" fill="none" stroke="#23242f" stroke-width="2.6" stroke-linecap="round" stroke-linejoin="round"/>
<polyline points="584,425 604.7,408" fill="none" stroke="#23242f" stroke-width="2.6" stroke-linecap="round" stroke-linejoin="round"/>
<polyline points="350.6,447 381,447 395,442" fill="none" stroke="#23242f" stroke-width="2.6" stroke-linecap="round" stroke-linejoin="round"/>
<polyline points="350.6,466 380,466 395,456" fill="none" stroke="#23242f" stroke-width="2.6" stroke-linecap="round" stroke-linejoin="round"/>
<polyline points="350.6,476 385.5,476 395,470" fill="none" stroke="#23242f" stroke-width="2.6" stroke-linecap="round" stroke-linejoin="round"/>
<polyline points="352,541.7 377,541.7" fill="none" stroke="#23242f" stroke-width="2.6" stroke-linecap="round" stroke-linejoin="round"/>
<polyline points="391,529 429,529 446,509.5" fill="none" stroke="#23242f" stroke-width="2.6" stroke-linecap="round" stroke-linejoin="round"/>
<polyline points="430,523.5 458,520.7" fill="none" stroke="#23242f" stroke-width="2.6" stroke-linecap="round" stroke-linejoin="round"/>
<polyline points="434.5,537.5 468,526" fill="none" stroke="#23242f" stroke-width="2.6" stroke-linecap="round" stroke-linejoin="round"/>
<polyline points="550.5,432.6 573,432.6 587,420" fill="none" stroke="#23242f" stroke-width="2.6" stroke-linecap="round" stroke-linejoin="round"/>
<polyline points="550.5,453.6 561.7,455 603.7,485.7" fill="none" stroke="#23242f" stroke-width="2.6" stroke-linecap="round" stroke-linejoin="round"/>
<polyline points="550.5,467.5 601,509.5" fill="none" stroke="#23242f" stroke-width="2.6" stroke-linecap="round" stroke-linejoin="round"/>
<polyline points="503,512 515.6,523.5" fill="none" stroke="#23242f" stroke-width="2.6" stroke-linecap="round" stroke-linejoin="round"/>
<polyline points="350,326.5 391,326.5 430,348" fill="none" stroke="#23242f" stroke-width="2.6" stroke-linecap="round" stroke-linejoin="round"/>
<polyline points="550,326.5 602,326.5" fill="none" stroke="#23242f" stroke-width="2.6" stroke-linecap="round" stroke-linejoin="round"/>
<polyline points="388,536 426,528 447.7,509" fill="none" stroke="#23242f" stroke-width="2.6" stroke-linecap="round" stroke-linejoin="round"/>
<polyline points="434,539 469,523" fill="none" stroke="#23242f" stroke-width="2.6" stroke-linecap="round" stroke-linejoin="round"/>
<polyline points="577,485 604,506.6" fill="none" stroke="#23242f" stroke-width="2.6" stroke-linecap="round" stroke-linejoin="round"/>
<circle cx="373.7" cy="430.5" r="4.5" fill="#24252f"/>
<circle cx="373.7" cy="430.5" r="2" fill="#55565f"/>
<circle cx="382.8" cy="540" r="4.5" fill="#24252f"/>
<circle cx="382.8" cy="540" r="2" fill="#55565f"/>
<circle cx="548" cy="373.7" r="4.5" fill="#24252f"/>
<circle cx="548" cy="373.7" r="2" fill="#55565f"/>
<circle cx="523" cy="539.6" r="4.5" fill="#24252f"/>
<circle cx="523" cy="539.6" r="2" fill="#55565f"/>
<circle cx="401" cy="373" r="4.5" fill="#24252f"/>
<circle cx="401" cy="373" r="2" fill="#55565f"/>
<circle cx="403" cy="321" r="4.5" fill="#24252f"/>
<circle cx="403" cy="321" r="2" fill="#55565f"/>
<circle cx="542" cy="321" r="4.5" fill="#24252f"/>
<circle cx="542" cy="321" r="2" fill="#55565f"/>
<rect x="413.0" y="377.5" width="122.0" height="109.5" fill="#2a2a33" />
<rect x="398.0" y="398.6" width="15.0" height="4.8" fill="#d6d6da" rx="2.4"/>
<rect x="535.0" y="398.6" width="13.4" height="4.8" fill="#d6d6da" rx="2.4"/>
<rect x="426.9" y="487.0" width="5.2" height="14.0" fill="#d6d6da" rx="2"/>
<rect x="398.0" y="409.3" width="15.0" height="4.8" fill="#d6d6da" rx="2.4"/>
<rect x="535.0" y="409.3" width="13.4" height="4.8" fill="#d6d6da" rx="2.4"/>
<rect x="438.7" y="487.0" width="5.2" height="14.0" fill="#d6d6da" rx="2"/>
<rect x="398.0" y="420.0" width="15.0" height="4.8" fill="#d6d6da" rx="2.4"/>
<rect x="535.0" y="420.0" width="13.4" height="4.8" fill="#d6d6da" rx="2.4"/>
<rect x="450.5" y="487.0" width="5.2" height="14.0" fill="#d6d6da" rx="2"/>
<rect x="398.0" y="430.7" width="15.0" height="4.8" fill="#d6d6da" rx="2.4"/>
<rect x="535.0" y="430.7" width="13.4" height="4.8" fill="#d6d6da" rx="2.4"/>
<rect x="462.3" y="487.0" width="5.2" height="14.0" fill="#d6d6da" rx="2"/>
<rect x="398.0" y="441.4" width="15.0" height="4.8" fill="#d6d6da" rx="2.4"/>
<rect x="535.0" y="441.4" width="13.4" height="4.8" fill="#d6d6da" rx="2.4"/>
<rect x="474.1" y="487.0" width="5.2" height="14.0" fill="#d6d6da" rx="2"/>
<rect x="398.0" y="452.1" width="15.0" height="4.8" fill="#d6d6da" rx="2.4"/>
<rect x="535.0" y="452.1" width="13.4" height="4.8" fill="#d6d6da" rx="2.4"/>
<rect x="485.9" y="487.0" width="5.2" height="14.0" fill="#d6d6da" rx="2"/>
<rect x="398.0" y="462.8" width="15.0" height="4.8" fill="#d6d6da" rx="2.4"/>
<rect x="535.0" y="462.8" width="13.4" height="4.8" fill="#d6d6da" rx="2.4"/>
<rect x="497.7" y="487.0" width="5.2" height="14.0" fill="#d6d6da" rx="2"/>
<rect x="398.0" y="473.5" width="15.0" height="4.8" fill="#d6d6da" rx="2.4"/>
<rect x="535.0" y="473.5" width="13.4" height="4.8" fill="#d6d6da" rx="2.4"/>
<rect x="509.5" y="487.0" width="5.2" height="14.0" fill="#d6d6da" rx="2"/>
<circle cx="431.0" cy="377.5" r="1.6" fill="#9a9aa0"/>
<circle cx="443.3" cy="377.5" r="1.6" fill="#9a9aa0"/>
<circle cx="455.6" cy="377.5" r="1.6" fill="#9a9aa0"/>
<circle cx="467.9" cy="377.5" r="1.6" fill="#9a9aa0"/>
<circle cx="480.2" cy="377.5" r="1.6" fill="#9a9aa0"/>
<circle cx="492.5" cy="377.5" r="1.6" fill="#9a9aa0"/>
<circle cx="504.8" cy="377.5" r="1.6" fill="#9a9aa0"/>
<circle cx="517.1" cy="377.5" r="1.6" fill="#9a9aa0"/>
<circle cx="435" cy="396.3" r="4.5" fill="#6c6c72"/>
<circle cx="396.7" cy="388" r="7.5" fill="#e9ecf7"/>
<rect x="406.5" y="381.0" width="5.5" height="15.0" fill="#e9ecf7" rx="2"/>
<rect x="536.0" y="382.0" width="8.0" height="13.0" fill="#e9ecf7" rx="2"/>
<path d="M405,486 L405,499 L421,499 L421,493 L412,493 L412,486 Z" fill="#e9ecf7"/>
<path d="M545.6,485 L545.6,499 L529,499 L529,491 L538.6,491 L538.6,485 Z" fill="#e9ecf7"/>
<path d="M438,405 L457,405 Q466,405 466,413 Q466,421 457,421 L446,421 L446,429 L438,429 L438,416 L456,416 Q459,416 459,413 Q459,410.5 456,410.5 L438,410.5 Z" fill="#8a8894"/>
<path d="M461,428.5 L475,405 L481,405 L495,428.5 L488,428.5 L478,412 L468,428.5 Z M473.5,425 L478,418 L482.5,425 Z" fill="#8a8894"/>
<path d="M484,428.5 L484,404 L491,404 L500.5,419 L509,404 L516,403 L516,428.5 L509.5,428.5 L509.5,415 L502,428 L499,428 L490.5,415 L490.5,428.5 Z" fill="#8a8894"/>
<text x="438.70" y="445.35" font-family='"Liberation Sans"' font-weight="normal" font-size="11.76" textLength="75.81" lengthAdjust="spacingAndGlyphs" fill="#8a8894" stroke="#8a8894" stroke-width="0.3" stroke-linejoin="round" >PAM8610</text>
<text x="435.76" y="462.85" font-family='"Liberation Sans"' font-weight="normal" font-size="13.91" textLength="82.58" lengthAdjust="spacingAndGlyphs" fill="#8a8894" stroke="#8a8894" stroke-width="0.3" stroke-linejoin="round" >TUE73174</text>
<text x="363.85" y="176.60" font-family='"Liberation Sans"' font-weight="bold" font-size="33.75" textLength="21.92" lengthAdjust="spacingAndGlyphs" fill="#e9ecf7" stroke="#e9ecf7" stroke-width="1.8" stroke-linejoin="round" >R</text>
<rect x="389.0" y="162.5" width="23.0" height="5.5" fill="#e9ecf7" />
<text x="554.46" y="178.10" font-family='"Liberation Sans"' font-weight="bold" font-size="32.29" textLength="47.12" lengthAdjust="spacingAndGlyphs" fill="#e9ecf7" stroke="#e9ecf7" stroke-width="1.8" stroke-linejoin="round" >R+</text>
<text x="670.78" y="235.80" font-family='"Liberation Sans"' font-weight="bold" font-size="25.66" textLength="114.83" lengthAdjust="spacingAndGlyphs" fill="#e9ecf7" stroke="#e9ecf7" stroke-width="1.0" stroke-linejoin="round" >HW-009</text>
<text x="708.28" y="374.00" font-family='"Liberation Sans"' font-weight="bold" font-size="26.52" textLength="86.30" lengthAdjust="spacingAndGlyphs" fill="#e9ecf7" stroke="#e9ecf7" stroke-width="1.0" stroke-linejoin="round" >V0.0.3</text>
<text x="357.37" y="731.10" font-family='"Liberation Sans"' font-weight="bold" font-size="36.65" textLength="22.88" lengthAdjust="spacingAndGlyphs" fill="#e9ecf7" stroke="#e9ecf7" stroke-width="1.8" stroke-linejoin="round" >L</text>
<rect x="386.0" y="715.0" width="20.0" height="6.0" fill="#e9ecf7" />
<text x="560.40" y="731.10" font-family='"Liberation Sans"' font-weight="bold" font-size="35.20" textLength="53.08" lengthAdjust="spacingAndGlyphs" fill="#e9ecf7" stroke="#e9ecf7" stroke-width="1.8" stroke-linejoin="round" >L+</text>
<g transform="translate(217.00,0) rotate(90)">
<text x="277.69" y="-0.90" font-family='"Liberation Mono"' font-weight="bold" font-size="42.89" textLength="78.55" lengthAdjust="spacingAndGlyphs" fill="#e9ecf7" stroke="#e9ecf7" stroke-width="1.8" stroke-linejoin="round" >R_IN</text>
</g>
<g transform="translate(206.00,0) rotate(90)">
<text x="525.36" y="-0.90" font-family='"Liberation Mono"' font-weight="bold" font-size="47.45" textLength="83.01" lengthAdjust="spacingAndGlyphs" fill="#e9ecf7" stroke="#e9ecf7" stroke-width="1.8" stroke-linejoin="round" >L_IN</text>
</g>
<g transform="translate(721.00,0) rotate(-90)">
<text x="-311.86" y="-0.70" font-family='"Liberation Sans"' font-weight="bold" font-size="32.97" textLength="30.18" lengthAdjust="spacingAndGlyphs" fill="#e9ecf7" stroke="#e9ecf7" stroke-width="1.4" stroke-linejoin="round" >SW</text>
</g>
<g transform="translate(727.50,0) rotate(-90)">
<text x="-579.19" y="-0.70" font-family='"Liberation Sans"' font-weight="bold" font-size="35.27" textLength="49.43" lengthAdjust="spacingAndGlyphs" fill="#e9ecf7" stroke="#e9ecf7" stroke-width="1.4" stroke-linejoin="round" >GND</text>
</g>
<g transform="translate(727.50,0) rotate(-90)">
<text x="-662.65" y="-0.70" font-family='"Liberation Sans"' font-weight="bold" font-size="35.27" textLength="75.14" lengthAdjust="spacingAndGlyphs" fill="#e9ecf7" stroke="#e9ecf7" stroke-width="1.4" stroke-linejoin="round" >+12V</text>
</g>
<rect x="111.0" y="141.0" width="41.0" height="3.5" fill="#111111" />
<rect x="129.0" y="144.0" width="4.0" height="628.0" fill="#111111" />
<rect x="109.0" y="771.2" width="45.0" height="4.5" fill="#111111" />
<rect x="171.0" y="790.0" width="4.0" height="41.0" fill="#111111" />
<rect x="172.0" y="809.0" width="645.0" height="3.5" fill="#111111" />
<rect x="815.0" y="789.0" width="4.0" height="45.0" fill="#111111" />
<rect x="837.0" y="705.0" width="41.0" height="3.5" fill="#111111" />
<rect x="855.0" y="707.0" width="4.0" height="61.0" fill="#111111" />
<rect x="837.0" y="766.0" width="41.0" height="4.0" fill="#111111" />
<text x="385.34" y="852.25" font-family='"Liberation Sans"' font-weight="normal" font-size="34.48" textLength="220.42" lengthAdjust="spacingAndGlyphs" fill="#111111" stroke="#111111" stroke-width="1.5" stroke-linejoin="round" >25mm/0.98in</text>
<g transform="translate(84.50,0) rotate(90)">
<text x="293.33" y="-0.75" font-family='"Liberation Sans"' font-weight="normal" font-size="34.21" textLength="218.41" lengthAdjust="spacingAndGlyphs" fill="#111111" stroke="#111111" stroke-width="1.5" stroke-linejoin="round" >30mm/1.18in</text>
</g>
<g transform="translate(895.00,0) rotate(90)">
<text x="642.33" y="-0.75" font-family='"Liberation Sans"' font-weight="normal" font-size="33.10" textLength="200.50" lengthAdjust="spacingAndGlyphs" fill="#111111" stroke="#111111" stroke-width="1.5" stroke-linejoin="round" >2mm/0.07in</text>
</g>
</svg></body></html>
